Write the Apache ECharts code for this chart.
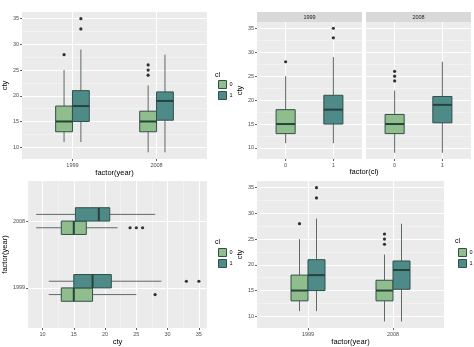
<!DOCTYPE html>
<html>
<head>
<meta charset="utf-8">
<script src="https://cdn.jsdelivr.net/npm/echarts@6/dist/echarts.min.js"></script>
<style>
  html, body { margin: 0; padding: 0; background: #ffffff; }
  #chart { width: 474px; height: 347px; }
</style>
</head>
<body>
<div id="chart"></div>
<script>
// cty by model year, split by cl
const years = ['1999', '2008'];
const classes = ['0', '1'];
// [lower whisker, Q1, median, Q3, upper whisker] per year
const statsCl0 = [[11, 13, 15, 18, 25], [9, 13, 15, 17, 22]];
const statsCl1 = [[11, 15, 18, 21, 29], [9, 15.25, 19, 20.75, 28]];
// points beyond the whiskers, per year
const outliersCl0 = [[28], [24, 25, 26]];
const outliersCl1 = [[33, 35], []];
const ctyTicks = [10, 15, 20, 25, 30, 35];
const ctyMinorTicks = [12.5, 17.5, 22.5, 27.5, 32.5];

const stats = [statsCl0, statsCl1];
const outliers = [outliersCl0, outliersCl1];
const fills = ['#8fbd8c', '#4e8a88'];
const edge = '#31504a';
const whiskerColor = '#5f6966';
const FONT = 'Liberation Sans';

// continuous range with 5% padding, like the default scale expansion
const allVals = [].concat(...statsCl0, ...statsCl1, ...outliersCl0, ...outliersCl1);
const lo = Math.min(...allVals), hi = Math.max(...allVals);
const pad = (hi - lo) * 0.05;
const CTY_MIN = lo - pad, CTY_MAX = hi + pad;

const option = {
  animation: false,
  textStyle: { fontFamily: FONT },
  grid: [], xAxis: [], yAxis: [], series: [], legend: [], title: [], graphic: []
};

function addGrid(rect) {
  option.grid.push(Object.assign({ show: true, backgroundColor: '#ebebeb', borderWidth: 0 }, rect));
  return option.grid.length - 1;
}

// discrete axis drawn on a value scale (positions 1..n, padded by 0.6)
function discreteAxis(gi, labels, name, nameGap) {
  const vals = labels.map((_, i) => i + 1);
  return {
    type: 'value', gridIndex: gi,
    min: 0.4, max: labels.length + 0.6,
    name: name || '', nameLocation: 'middle', nameGap: nameGap || 10,
    nameTextStyle: { fontSize: 7.5, color: '#000', fontFamily: FONT },
    axisLine: { show: false },
    axisTick: { show: true, length: 2, customValues: vals, lineStyle: { color: '#333', width: 0.8 } },
    axisLabel: { show: true, customValues: vals, margin: 3, fontSize: 5.5, color: '#4d4d4d',
                 formatter: v => labels[Math.round(v) - 1] },
    splitLine: { show: true, lineStyle: { color: '#ffffff', width: 1 } }
  };
}

function ctyAxis(gi, name, nameGap, showLabels) {
  return {
    type: 'value', gridIndex: gi, min: CTY_MIN, max: CTY_MAX,
    name: name || '', nameLocation: 'middle', nameGap: nameGap || 10,
    nameTextStyle: { fontSize: 7.5, color: '#000', fontFamily: FONT },
    axisLine: { show: false },
    axisTick: { show: showLabels !== false, length: 2, customValues: ctyTicks, lineStyle: { color: '#333', width: 0.8 } },
    axisLabel: { show: showLabels !== false, customValues: ctyTicks, margin: 3, fontSize: 5.5, color: '#4d4d4d' },
    splitLine: { show: true, lineStyle: { color: '#ffffff', width: 1 } }
  };
}

function ctyMinorAxis(gi) {
  return {
    type: 'value', gridIndex: gi, min: CTY_MIN, max: CTY_MAX,
    axisLine: { show: false },
    axisTick: { show: false, customValues: ctyMinorTicks },
    axisLabel: { show: false, customValues: ctyMinorTicks },
    splitLine: { show: true, lineStyle: { color: '#f7f7f7', width: 0.6 } }
  };
}

function push(list, ax) { list.push(ax); return list.length - 1; }

// box, whiskers (no caps) and a heavier median, placed through the axis scales
function boxRenderer(horizontal, halfWidth, c) {
  return function (params, api) {
    const b = api.value(0);
    const v = [1, 2, 3, 4, 5].map(i => api.value(i));
    const pt = (bv, vv) => api.coord(horizontal ? [vv, bv] : [bv, vv]);
    const a = pt(b - halfWidth, v[1]);
    const d = pt(b + halfWidth, v[3]);
    const line = (p, q, stroke, w) => ({
      type: 'line', shape: { x1: p[0], y1: p[1], x2: q[0], y2: q[1] },
      style: { stroke: stroke, lineWidth: w }
    });
    return {
      type: 'group',
      children: [
        line(pt(b, v[0]), pt(b, v[1]), whiskerColor, 1),
        line(pt(b, v[3]), pt(b, v[4]), whiskerColor, 1),
        { type: 'rect',
          shape: { x: Math.min(a[0], d[0]), y: Math.min(a[1], d[1]),
                   width: Math.abs(d[0] - a[0]), height: Math.abs(d[1] - a[1]) },
          style: { fill: fills[c], stroke: edge, lineWidth: 1 } },
        line(pt(b - halfWidth, v[2]), pt(b + halfWidth, v[2]), '#27423b', 2)
      ]
    };
  };
}

function boxSeries(name, c, baseIdx, valIdx, horizontal, positions, boxStats, halfWidth) {
  const s = {
    type: 'custom', name: name,
    renderItem: boxRenderer(horizontal, halfWidth, c),
    itemStyle: { color: fills[c], borderColor: edge },
    encode: horizontal ? { y: 0, x: [1, 2, 3, 4, 5] } : { x: 0, y: [1, 2, 3, 4, 5] },
    emphasis: { disabled: true },
    data: positions.map((p, i) => [p].concat(boxStats[i]))
  };
  if (horizontal) { s.yAxisIndex = baseIdx; s.xAxisIndex = valIdx; }
  else { s.xAxisIndex = baseIdx; s.yAxisIndex = valIdx; }
  option.series.push(s);
}

function outlierSeries(c, baseIdx, valIdx, horizontal, positions, pts) {
  const data = [];
  positions.forEach((p, i) => pts[i].forEach(v => data.push(horizontal ? [v, p] : [p, v])));
  const s = {
    type: 'scatter', name: 'outlier-' + classes[c], symbol: 'circle', symbolSize: 3.2,
    itemStyle: { color: '#000' }, emphasis: { disabled: true }, data: data
  };
  if (horizontal) { s.yAxisIndex = baseIdx; s.xAxisIndex = valIdx; }
  else { s.xAxisIndex = baseIdx; s.yAxisIndex = valIdx; }
  option.series.push(s);
}

function addLegend(titleLeft, titleTop, left, top) {
  option.title.push({ text: 'cl', left: titleLeft, top: titleTop, padding: 0,
    textStyle: { fontSize: 7, fontWeight: 'normal', color: '#000', fontFamily: FONT } });
  option.legend.push({ orient: 'vertical', left: left, top: top, padding: 0,
    itemWidth: 8, itemHeight: 8, itemGap: 2, selectedMode: false, icon: 'rect',
    textStyle: { fontSize: 5.5, color: '#000', fontFamily: FONT, padding: [0, 0, 0, -2] },
    data: classes.map((cl, c) => ({
      name: cl, icon: 'rect',
      itemStyle: { color: fills[c], borderColor: edge, borderWidth: 1 }
    })) });
}

// year on the category side, classes dodged within each year
function dodgedPanel(rect, horizontal, baseName, baseGap, valName, valGap) {
  const gi = addGrid(rect);
  const baseList = horizontal ? option.yAxis : option.xAxis;
  const valList = horizontal ? option.xAxis : option.yAxis;
  const base = push(baseList, discreteAxis(gi, years, baseName, baseGap));
  const val = push(valList, ctyAxis(gi, valName, valGap));
  push(valList, ctyMinorAxis(gi));
  const dodge = 0.2;
  classes.forEach((cl, c) => {
    const positions = years.map((_, i) => i + 1 + (c - 0.5) * dodge);
    boxSeries(cl, c, base, val, horizontal, positions, stats[c], dodge / 2);
    outlierSeries(c, base, val, horizontal, positions, outliers[c]);
  });
}

// one facet per year, classes along the category side
function facetPanel(rect, yi, stripTop, showCtyLabels) {
  const gi = addGrid(rect);
  const base = push(option.xAxis, discreteAxis(gi, classes, '', 8));
  const val = push(option.yAxis, ctyAxis(gi, showCtyLabels ? 'cty' : '', 12, showCtyLabels));
  push(option.yAxis, ctyMinorAxis(gi));
  classes.forEach((cl, c) => {
    boxSeries('facet-' + cl, c, base, val, false, [c + 1], [stats[c][yi]], 0.2);
    outlierSeries(c, base, val, false, [c + 1], [outliers[c][yi]]);
  });
  // facet strip with the year
  option.graphic.push({
    type: 'group', left: rect.left, top: stripTop,
    children: [
      { type: 'rect', shape: { x: 0, y: 0, width: rect.width, height: rect.top - stripTop },
        style: { fill: '#d9d9d9' } },
      { type: 'text', x: rect.width / 2, y: (rect.top - stripTop) / 2,
        style: { text: years[yi], fontSize: 5.5, fill: '#1a1a1a', fontFamily: FONT,
                 align: 'center', verticalAlign: 'middle' } }
    ]
  });
}

// top left: vertical boxes by year
dodgedPanel({ left: 20, top: 12, width: 187, height: 147 }, false, 'factor(year)', 8, 'cty', 11);
addLegend(215, 72, 218, 80);

// top right: faceted by year, one shared x title
facetPanel({ left: 257, top: 22, width: 105, height: 137 }, 0, 12, true);
facetPanel({ left: 366, top: 22, width: 105, height: 137 }, 1, 12, false);
option.graphic.push({
  type: 'text', x: 364, y: 172,
  style: { text: 'factor(cl)', fontSize: 7.5, fill: '#000', fontFamily: FONT,
           align: 'center', verticalAlign: 'middle' }
});

// bottom left: horizontal boxes
dodgedPanel({ left: 26, top: 181, width: 181, height: 147 }, true, 'factor(year)', 16, 'cty', 8);
addLegend(215, 239, 218, 248);

// bottom right: vertical boxes by year
dodgedPanel({ left: 257, top: 181, width: 187, height: 148 }, false, 'factor(year)', 8, 'cty', 11);
addLegend(455, 238, 458, 248);

const chart = echarts.init(document.getElementById('chart'), null, { renderer: 'canvas' });
chart.setOption(option);
</script>
</body>
</html>
